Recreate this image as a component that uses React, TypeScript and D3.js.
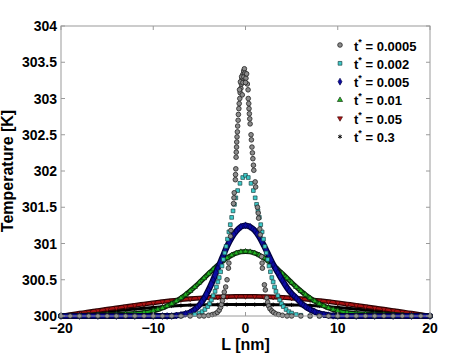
import React from 'react';
import * as d3 from 'd3';

const W = 474;
const H = 355;
const FONT = '"Liberation Sans", Arial, Helvetica, sans-serif';

const X_TICKS = [-20, -10, 0, 10, 20];
const X_TICK_LABELS = ['\u221220', '\u221210', '0', '10', '20'];
const Y_TICKS = [300, 300.5, 301, 301.5, 302, 302.5, 303, 303.5, 304];
const Y_TICK_LABELS = ['300', '300.5', '301', '301.5', '302', '302.5', '303', '303.5', '304'];
const LEGEND_LABELS = ['0.0005', '0.002', '0.005', '0.01', '0.05', '0.3'];

// t* = 0.0005 (grey circles, noisy)
const L_0005 = [
  -20, -19, -18, -17, -16, -15, -14, -13, -12, -11, -10, -9, -8, -7, -6, -5,
  -4.5, -4.0, -3.6, -3.3, -3.05, -2.85, -2.7, -2.6, -2.5, -2.4, -2.3, -2.15, -2.0, -1.85, -1.8,
  -1.62, -1.58, -1.3, -1.25, -1.22, -1.1, -1.08, -1.05, -1.02, -1.0, -0.97, -0.95, -0.92, -0.88,
  -0.85, -0.8, -0.77, -0.72, -0.68, -0.62, -0.58, -0.5, -0.45, -0.38, -0.3, -0.2, -0.12,
  -0.65, -0.55, -0.42, -0.28, -0.18, -0.05, 0.05, 0.12, 0.2, 0.28, -0.35, 0.0,
  0.3, 0.35, 0.38, 0.42, 0.46, 0.5, 0.6, 0.64, 0.7, 0.75, 0.8, 0.86, 0.9, 1.05, 1.1, 1.3, 1.38,
  1.42, 1.55, 1.6, 1.75, 1.8, 1.83, 2.05, 2.15, 2.3, 2.4, 2.5, 2.65, 2.85, 3.05, 3.3, 3.6, 4.0, 4.5,
  5, 6, 7, 8, 9, 10, 11, 12, 13, 14, 15, 16, 17, 18, 19, 20,
];
const T_0005 = [
  300, 300, 300, 300, 300, 300, 300, 300, 300, 300, 300, 300, 300, 300, 300, 300,
  300.0, 300.01, 300.02, 300.03, 300.05, 300.08, 300.12, 300.16, 300.21, 300.27, 300.33, 300.4, 300.5, 300.66, 300.73,
  301.1, 301.18, 301.55, 301.63, 301.7, 301.88, 301.95, 302.03, 302.19, 302.26, 302.33, 302.4, 302.47, 302.54,
  302.62, 302.7, 302.78, 302.86, 302.93, 303.0, 303.08, 303.14, 303.2, 303.27, 303.33, 303.38, 303.41,
  303.12, 303.23, 303.3, 303.22, 303.3, 303.35, 303.28, 303.34, 303.2, 303.12, 303.05, 303.22,
  303.0, 302.93, 302.86, 302.79, 302.72, 302.65, 302.5, 302.43, 302.33, 302.25, 302.17, 302.08, 302.01, 301.85, 301.78, 301.5, 301.42,
  301.35, 301.2, 301.12, 300.82, 300.73, 300.66, 300.43, 300.36, 300.25, 300.19, 300.14, 300.1, 300.07, 300.05, 300.03, 300.02, 300.01, 300.0,
  300, 300, 300, 300, 300, 300, 300, 300, 300, 300, 300, 300, 300, 300, 300, 300,
];

// t* = 0.002 (cyan squares)
const L_002 = [
  -20, -18, -16, -14, -12, -10, -8, -7, -6, -5.5, -5.0, -4.7, -4.4, -4.1, -3.9, -3.7, -3.5, -3.3, -3.15,
  -3.0, -2.85, -2.7, -2.55, -2.4, -2.25, -2.1, -1.95, -1.8, -1.65, -1.5, -1.35, -1.2, -1.05, -0.85, -0.6, -0.3,
  0, 0.3, 0.6, 0.85, 1.05, 1.2, 1.35, 1.5, 1.65, 1.8, 1.95, 2.1, 2.25, 2.4, 2.55, 2.7, 2.85, 3.0,
  3.15, 3.3, 3.5, 3.7, 3.9, 4.1, 4.4, 4.7, 5.0, 5.5, 6, 7, 8, 10, 12, 14, 16, 18, 20,
];
const T_002 = [
  300, 300, 300, 300, 300, 300, 300, 300, 300.01, 300.02, 300.04, 300.06, 300.09, 300.13, 300.17, 300.22, 300.28, 300.34, 300.4,
  300.47, 300.53, 300.61, 300.69, 300.78, 300.87, 300.96, 301.06, 301.16, 301.26, 301.36, 301.45, 301.54, 301.63, 301.73, 301.83, 301.91,
  301.94, 301.91, 301.83, 301.73, 301.63, 301.54, 301.45, 301.36, 301.26, 301.16, 301.06, 300.96, 300.87, 300.78, 300.69, 300.61, 300.53, 300.47,
  300.4, 300.34, 300.28, 300.22, 300.17, 300.13, 300.09, 300.06, 300.04, 300.02, 300.01, 300, 300, 300, 300, 300, 300, 300, 300,
];

// t* = 0.005 (blue diamonds)
const L_005 = [
  -20, -18, -16, -14, -12, -10, -9, -8.5, -8, -7.5, -7, -6.5, -6, -5.5, -5, -4.5, -4, -3.5, -3, -2.5, -2, -1.5, -1, -0.5,
  0, 0.5, 1, 1.5, 2, 2.5, 3, 3.5, 4, 4.5, 5, 5.5, 6, 6.5, 7, 7.5, 8, 8.5, 9, 9.5, 10, 12, 14, 16, 18, 20,
];
const T_005 = [
  300, 300, 300, 300, 300, 300, 300, 300, 300, 300.007, 300.015, 300.03, 300.05, 300.09, 300.15, 300.24, 300.36, 300.5, 300.66, 300.81, 300.96, 301.08, 301.17, 301.23,
  301.25, 301.23, 301.18, 301.09, 300.97, 300.84, 300.71, 300.6, 300.49, 300.39, 300.31, 300.25, 300.18, 300.13, 300.09, 300.06, 300.035, 300.02, 300.01, 300.004, 300, 300, 300, 300, 300, 300,
];

// t* = 0.01 (green triangles)
const L_01 = [
  -20, -19, -18, -17, -16, -15, -14, -13, -12, -11, -10, -9.5, -9, -8.5, -8, -7.5, -7, -6.5, -6, -5.5, -5, -4.5, -4, -3.5, -3, -2.5, -2, -1.5, -1, -0.5,
  0, 0.5, 1, 1.5, 2, 2.5, 3, 3.5, 4, 4.5, 5, 5.5, 6, 6.5, 7, 7.5, 8, 8.5, 9, 9.5, 10, 11, 12, 13, 14, 15, 16, 17, 18, 19, 20,
];
const T_01 = [
  300, 300.004, 300.008, 300.012, 300.016, 300.02, 300.024, 300.028, 300.035, 300.048, 300.072, 300.089, 300.11, 300.137, 300.168, 300.205, 300.247, 300.294, 300.345, 300.401, 300.461, 300.522, 300.584, 300.645, 300.702, 300.755, 300.801, 300.839, 300.867, 300.884,
  300.89, 300.884, 300.867, 300.839, 300.801, 300.755, 300.702, 300.645, 300.584, 300.522, 300.461, 300.401, 300.345, 300.294, 300.247, 300.205, 300.168, 300.137, 300.11, 300.089, 300.072, 300.048, 300.035, 300.028, 300.024, 300.02, 300.016, 300.012, 300.008, 300.004, 300,
];

// t* = 0.05 (red down-triangles)
const L_05 = [
  -20, -19, -18, -17, -16, -15, -14, -13, -12, -11, -10, -9, -8, -7, -6, -5, -4, -3, -2, -1,
  0, 1, 2, 3, 4, 5, 6, 7, 8, 9, 10, 11, 12, 13, 14, 15, 16, 17, 18, 19, 20,
];
const T_05 = [
  300, 300.019, 300.038, 300.057, 300.075, 300.094, 300.112, 300.13, 300.148, 300.165, 300.182, 300.198, 300.212, 300.226, 300.238, 300.248, 300.256, 300.262, 300.267, 300.27,
  300.271, 300.27, 300.267, 300.262, 300.256, 300.248, 300.238, 300.226, 300.212, 300.198, 300.182, 300.165, 300.148, 300.13, 300.112, 300.094, 300.075, 300.057, 300.038, 300.019, 300,
];

// t* = 0.3 (black stars)
const L_3 = [
  -20, -19, -18, -17, -16, -15, -14, -13, -12, -11, -10, -9, -8, -7, -6, -5, -4, -3, -2, -1,
  0, 1, 2, 3, 4, 5, 6, 7, 8, 9, 10, 11, 12, 13, 14, 15, 16, 17, 18, 19, 20,
];
const T_3 = [
  300, 300.012, 300.024, 300.036, 300.048, 300.06, 300.072, 300.084, 300.096, 300.108, 300.119, 300.129, 300.138, 300.145, 300.15, 300.153, 300.155, 300.156, 300.157, 300.157,
  300.157, 300.157, 300.157, 300.156, 300.155, 300.153, 300.15, 300.145, 300.138, 300.129, 300.119, 300.108, 300.096, 300.084, 300.072, 300.06, 300.048, 300.036, 300.024, 300.012, 300,
];

type Band = { under: string; underW: number; over?: string; overW?: number };
type Series = {
  L: number[];
  T: number[];
  type: d3.SymbolType;
  size: number;
  fill: string;
  stroke: string;
  sw: number;
  rotate?: number;
  band?: Band;
};

const SERIES: Series[] = [
  { L: L_0005, T: T_0005, type: d3.symbolCircle, size: 17, fill: '#8c8c8c', stroke: '#222', sw: 0.8 },
  { L: L_002, T: T_002, type: d3.symbolSquare, size: 14, fill: '#3ccaca', stroke: '#1d4545', sw: 0.7 },
  { L: L_005, T: T_005, type: d3.symbolDiamond, size: 14, fill: '#0a0aa0', stroke: '#00003c', sw: 0.6,
    band: { under: '#00003c', underW: 6, over: '#0c0ca4', overW: 3.6 } },
  { L: L_01, T: T_01, type: d3.symbolTriangle, size: 12, fill: '#22b422', stroke: '#0a200a', sw: 0.6,
    band: { under: '#0b250b', underW: 5, over: '#1fa81f', overW: 2.2 } },
  { L: L_05, T: T_05, type: d3.symbolTriangle, size: 11, fill: '#b31414', stroke: '#2a0000', sw: 0.6, rotate: 180,
    band: { under: '#2e0303', underW: 4.8, over: '#a81212', overW: 2.4 } },
  { L: L_3, T: T_3, type: d3.symbolAsterisk, size: 12, fill: 'none', stroke: '#000', sw: 1,
    band: { under: '#000', underW: 3 } },
];

const x = d3.scaleLinear().domain([-20, 20]).range([61, 430]);
const y = d3.scaleLinear().domain([300, 304]).range([316, 26]);

function symbolPath(s: Series) {
  return d3.symbol().type(s.type).size(s.size)() as string;
}

function SeriesMarks({ s }: { s: Series }) {
  const p = symbolPath(s);
  const line = d3
    .line<number>()
    .x((_, i) => x(s.L[i]))
    .y((t) => y(t))
    .curve(d3.curveMonotoneX);
  const order = s.L.map((_, i) => i);
  return (
    <g>
      {s.band && (
        <path d={line(s.T) as string} fill="none" stroke={s.band.under} strokeWidth={s.band.underW} strokeLinejoin="round" strokeLinecap="round" />
      )}
      {s.band && s.band.over && (
        <path d={line(s.T) as string} fill="none" stroke={s.band.over} strokeWidth={s.band.overW} strokeLinejoin="round" strokeLinecap="round" />
      )}
      {order.map((i) => (
        <path
          key={i}
          d={p}
          transform={`translate(${x(s.L[i])},${y(s.T[i])})${s.rotate ? ` rotate(${s.rotate})` : ''}`}
          fill={s.fill}
          stroke={s.stroke}
          strokeWidth={s.sw}
        />
      ))}
    </g>
  );
}

export default function App() {
  const x0 = 61, x1 = 430, y0 = 26, y1 = 316;
  const tl = 4;
  const axisColor = '#9a9a9a';
  const drawOrder = [5, 4, 3, 2, 1, 0];
  return (
    <svg width={W} height={H} style={{ position: 'fixed', left: 0, top: 0, background: '#fff' }} fontFamily={FONT}>
      <rect x={0} y={0} width={W} height={H} fill="#fff" />
      {drawOrder.map((k) => (
        <SeriesMarks key={k} s={SERIES[k]} />
      ))}
      <rect x={x0} y={y0} width={x1 - x0} height={y1 - y0} fill="none" stroke={axisColor} strokeWidth={1} />
      {X_TICKS.map((t, i) => (
        <g key={'xt' + i}>
          <line x1={x(t)} x2={x(t)} y1={y1} y2={y1 - tl} stroke={axisColor} />
          <line x1={x(t)} x2={x(t)} y1={y0} y2={y0 + tl} stroke={axisColor} />
          <text x={x(t)} y={333} textAnchor="middle" fontSize={14} fontWeight="bold" fill="#000">
            {X_TICK_LABELS[i]}
          </text>
        </g>
      ))}
      {Y_TICKS.map((t, i) => (
        <g key={'yt' + i}>
          <line x1={x0} x2={x0 + tl} y1={y(t)} y2={y(t)} stroke={axisColor} />
          <line x1={x1} x2={x1 - tl} y1={y(t)} y2={y(t)} stroke={axisColor} />
          <text x={57} y={y(t) + 5} textAnchor="end" fontSize={14} fontWeight="bold" fill="#000">
            {Y_TICK_LABELS[i]}
          </text>
        </g>
      ))}
      <text x={(x0 + x1) / 2} y={350} textAnchor="middle" fontSize={16} fontWeight="bold" fill="#000">
        L [nm]
      </text>
      <text transform={`translate(13,${(y0 + y1) / 2}) rotate(-90)`} textAnchor="middle" fontSize={16} fontWeight="bold" fill="#000">
        Temperature [K]
      </text>
      {SERIES.map((s, i) => {
        const cy = 45 + i * 18.33;
        return (
          <g key={'lg' + i}>
            <path
              d={symbolPath(s)}
              transform={`translate(340,${cy})${s.rotate ? ` rotate(${s.rotate})` : ''}`}
              fill={s.fill}
              stroke={s.stroke}
              strokeWidth={s.sw}
            />
            <text x={354} y={cy + 5.5} fontSize={13} fontWeight="bold" fill="#000">
              t
              <tspan dy={-6} fontSize={9}>*</tspan>
              <tspan dy={6}>{' = ' + LEGEND_LABELS[i]}</tspan>
            </text>
          </g>
        );
      })}
    </svg>
  );
}
